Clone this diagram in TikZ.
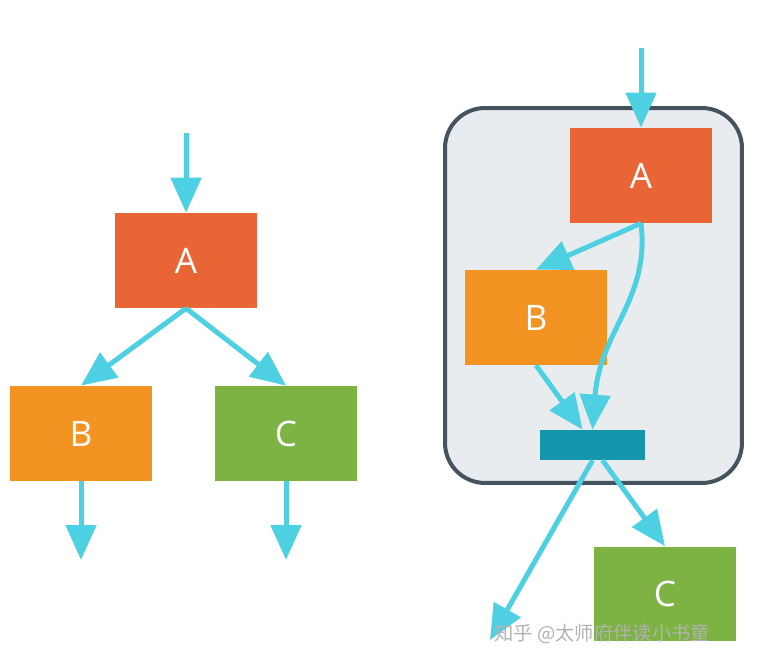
\documentclass[tikz,border=0pt]{standalone}
\usepackage{fontspec}
\setmainfont{Open Sans}
\newfontfamily\cjk{Noto Sans CJK SC}
\usetikzlibrary{arrows.meta}
\begin{document}
\begin{tikzpicture}[x=0.02cm,y=-0.02cm,
  box/.style={draw=none,minimum width=2.84cm,minimum height=1.9cm,text=white,font=\fontsize{20}{20}\selectfont},
  arr/.style={draw={rgb,255:red,77;green,208;blue,225},line width=0.1cm,-{Triangle[length=0.7cm,width=0.6cm]}}]
\definecolor{ared}{RGB}{234,101,53}
\definecolor{borange}{RGB}{243,147,34}
\definecolor{cgreen}{RGB}{124,179,66}
\definecolor{bar}{RGB}{20,151,172}
\useasboundingbox (0,0) rectangle (764,668);
% left
\node[box,fill=ared] (A1) at (186,260.5) {A};
\node[box,fill=borange] (B1) at (81,433.5) {B};
\node[box,fill=cgreen] (C1) at (286,433.5) {C};
\coordinate (i1) at (186,133);
\coordinate (ob) at (81,560);
\coordinate (oc) at (286,560);
\draw[arr] (i1) -- (A1.north);
\draw[arr] (A1.south) -- (B1.north);
\draw[arr] (A1.south) -- (C1.north);
\draw[arr] (B1.south) -- (ob);
\draw[arr] (C1.south) -- (oc);
% right
\node[draw={rgb,255:red,68;green,83;blue,94},line width=0.08cm,fill={rgb,255:red,233;green,236;blue,239},rounded corners=0.8cm,minimum width=5.94cm,minimum height=7.5cm] (G) at (593.5,295.5) {};
\node[box,fill=ared] (A2) at (641,175.5) {A};
\node[box,fill=borange] (B2) at (536,317.5) {B};
\node[fill=bar,minimum width=2.1cm,minimum height=0.6cm,inner sep=0] (J) at (592.5,445) {};
\node[box,fill=cgreen] (C2) at (665,594) {C};
\coordinate (i2) at (641,48);
\coordinate (o2) at (490,640);
\draw[arr] (i2) -- (A2.north);
\draw[arr] (A2.south) -- (B2.north);
\draw[arr] (A2.south) .. controls (650,300) and (600,330) .. (J.north);
\draw[arr] (B2.south) -- ([xshift=-0.2cm]J.north);
\draw[arr] (J.south) -- (o2);
\draw[arr] ([xshift=0.2cm]J.south) -- (C2.north);
\node[text=gray!60,font=\cjk\fontsize{11}{11}\selectfont,anchor=west,inner sep=0] (w) at (494,634) {知乎 @太师府伴读小书童};
\end{tikzpicture}
\end{document}
